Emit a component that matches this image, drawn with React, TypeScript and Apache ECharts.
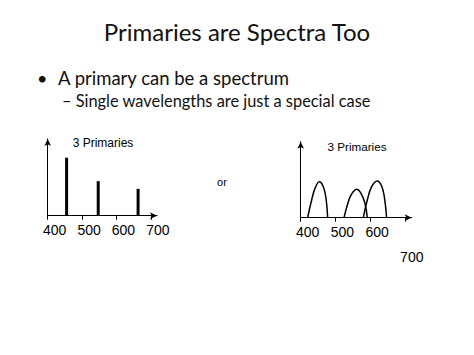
import React, { useEffect, useRef } from "react";
import * as echarts from "echarts";

const tickValues = [400, 500, 600, 700];
const spikeWavelengths = [455, 547, 663];
const spikeHeights = [75.6, 45, 35];
const hump1: [number, number][] = [[420, 0], [431.6, 23.3], [441.2, 38.6], [453.7, 47.4], [465.2, 40.8], [472.9, 25.5], [477.7, 0]];
const hump2: [number, number][] = [[524.8, 0], [537.3, 21.1], [546.9, 31.2], [561.3, 37.3], [573.8, 32.1], [585.3, 18.9], [592, 0]];
const hump3: [number, number][] = [[580.5, 0], [592, 23.3], [604.5, 40.8], [620.8, 48.3], [633.3, 41.7], [641, 27.7], [647.7, 0]];

const slideTitle = "Primaries are Spectra Too";
const bullet1 = "A primary can be a spectrum";
const bullet2 = "– Single wavelengths are just a special case";
const chartTitle = "3 Primaries";
const orText = "or";

const SANS = "Liberation Sans, Arial, sans-serif";
const SLIDE = "Lato, sans-serif";

function xAxisCfg(gridIndex: number, max: number, low700: boolean) {
  return {
    type: "value",
    gridIndex,
    min: 400,
    max,
    interval: 100,
    axisLine: {
      show: true,
      onZero: false,
      symbol: ["none", "arrow"],
      symbolSize: [5, 7],
      lineStyle: { color: "#000", width: 1 },
    },
    axisTick: { show: true, length: 4, customValues: tickValues, lineStyle: { color: "#000", width: 1 } },
    axisLabel: {
      show: true,
      customValues: tickValues,
      fontSize: 14,
      color: "#000",
      fontFamily: SANS,
      margin: 7,
      padding: [0, 0, 0, 14],
      formatter: (v: number) => (low700 && v === 700 ? "{low|700}" : "{n|" + v + "}"),
      rich: {
        n: { fontSize: 14, fontFamily: SANS, color: "#000" },
        low: { fontSize: 14, fontFamily: SANS, color: "#000", padding: [25, 0, 0, 0] },
      },
    },
    splitLine: { show: false },
  };
}

function yAxisCfg(gridIndex: number) {
  return {
    type: "value",
    gridIndex,
    min: 0,
    max: 100,
    axisLine: {
      show: true,
      symbol: ["none", "arrow"],
      symbolSize: [5, 7],
      lineStyle: { color: "#000", width: 1 },
    },
    axisTick: { show: false },
    axisLabel: { show: false },
    splitLine: { show: false },
  };
}

export default function App() {
  const ref = useRef<HTMLDivElement>(null);
  useEffect(() => {
    if (!ref.current) return;
    const chart = echarts.init(ref.current, null, { renderer: "svg" });
    const humpSeries = [hump1, hump2, hump3].map((h) => ({
      type: "line",
      xAxisIndex: 1,
      yAxisIndex: 1,
      data: h,
      smooth: 0.4,
      showSymbol: false,
      lineStyle: { color: "#000", width: 1.5 },
    }));
    chart.setOption({
      animation: false,
      backgroundColor: "#fff",
      grid: [
        { left: 47.7, top: 139, width: 109.3, height: 76.7 },
        { left: 300.7, top: 141.7, width: 111, height: 76 },
      ],
      xAxis: [xAxisCfg(0, 718, false), xAxisCfg(1, 720, true)],
      yAxis: [yAxisCfg(0), yAxisCfg(1)],
      series: [
        {
          type: "bar",
          xAxisIndex: 0,
          yAxisIndex: 0,
          data: spikeWavelengths.map((w, i) => [w, spikeHeights[i]]),
          barWidth: 3,
          itemStyle: { color: "#000" },
        },
        ...humpSeries,
      ],
      graphic: [
        { type: "text", x: 237, y: 31, style: { text: slideTitle, font: `24px ${SLIDE}`, fill: "#111", align: "center", verticalAlign: "middle" } },
        { type: "text", x: 37, y: 78, style: { text: "•", font: `18px ${SLIDE}`, fill: "#111", align: "left", verticalAlign: "middle" } },
        { type: "text", x: 58, y: 78, style: { text: bullet1, font: `18.5px ${SLIDE}`, fill: "#111", align: "left", verticalAlign: "middle" } },
        { type: "text", x: 62, y: 100, style: { text: bullet2, font: `16.4px ${SLIDE}`, fill: "#111", align: "left", verticalAlign: "middle" } },
        { type: "text", x: 103, y: 143, style: { text: chartTitle, font: `12px ${SANS}`, fill: "#000", align: "center", verticalAlign: "middle" } },
        { type: "text", x: 357, y: 146, style: { text: chartTitle, font: `11.7px ${SANS}`, fill: "#000", align: "center", verticalAlign: "middle" } },
        { type: "text", x: 222, y: 182, style: { text: orText, font: `11px ${SANS}`, fill: "#000", align: "center", verticalAlign: "middle" } },
      ],
    });
    return () => chart.dispose();
  }, []);
  return (
    <div
      ref={ref}
      style={{ position: "fixed", left: 0, top: 0, width: 474, height: 355, background: "#fff" }}
    />
  );
}
